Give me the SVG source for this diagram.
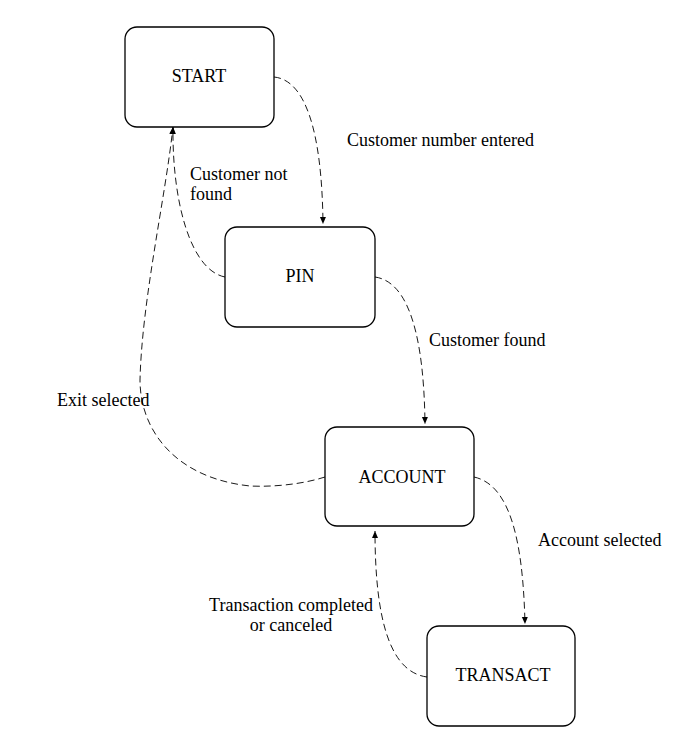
<svg xmlns="http://www.w3.org/2000/svg" width="686" height="754" viewBox="0 0 686 754">
<style>
.box{fill:#fff;stroke:#000;stroke-width:1.3}
.t{font-family:"Liberation Serif",serif;font-size:18px;fill:#000}
.c{fill:none;stroke:#000;stroke-width:0.9;stroke-dasharray:7 4}
</style>
<defs><marker id="a" markerWidth="8" markerHeight="10" refX="7" refY="4" orient="auto" markerUnits="userSpaceOnUse"><path d="M0,1 L7,4 L0,7 Z" fill="#000"/></marker></defs>
<rect width="686" height="754" fill="#fff"/>
<g id="connectors">
<path class="c" d="M274,77 C305,80 322,130 323,224" marker-end="url(#a)"/>
<path class="c" d="M225,277 C190,270 172,200 173,127" marker-end="url(#a)"/>
<path class="c" d="M375,277 C410,282 424,340 425,424" marker-end="url(#a)"/>
<path class="c" d="M325,477 C300,485 270,487 250,486 C175,478 140,430 140,380 C142,300 165,200 173,127" marker-end="url(#a)"/>
<path class="c" d="M474,477 C510,485 523,540 525,624" marker-end="url(#a)"/>
<path class="c" d="M427,677 C390,672 375,620 375,531" marker-end="url(#a)"/>
</g>
<g id="start"><rect class="box" x="125" y="27" width="149" height="100" rx="12"/><text class="t" x="199" y="82" text-anchor="middle">START</text></g>
<g id="pin"><rect class="box" x="225" y="227" width="150" height="100" rx="12"/><text class="t" x="300" y="282" text-anchor="middle">PIN</text></g>
<g id="account"><rect class="box" x="325" y="427" width="149" height="99" rx="12"/><text class="t" x="402" y="483" text-anchor="middle">ACCOUNT</text></g>
<g id="transact"><rect class="box" x="427" y="626" width="148" height="100" rx="12"/><text class="t" x="503" y="681" text-anchor="middle">TRANSACT</text></g>
<g id="labels">
<text class="t" x="347" y="146">Customer number entered</text>
<text class="t" x="190" y="180">Customer not</text>
<text class="t" x="190" y="200">found</text>
<text class="t" x="429" y="346">Customer found</text>
<text class="t" x="57" y="406">Exit selected</text>
<text class="t" x="538" y="546">Account selected</text>
<text class="t" x="291" y="611" text-anchor="middle">Transaction completed</text>
<text class="t" x="291" y="631" text-anchor="middle">or canceled</text>
</g>
</svg>
